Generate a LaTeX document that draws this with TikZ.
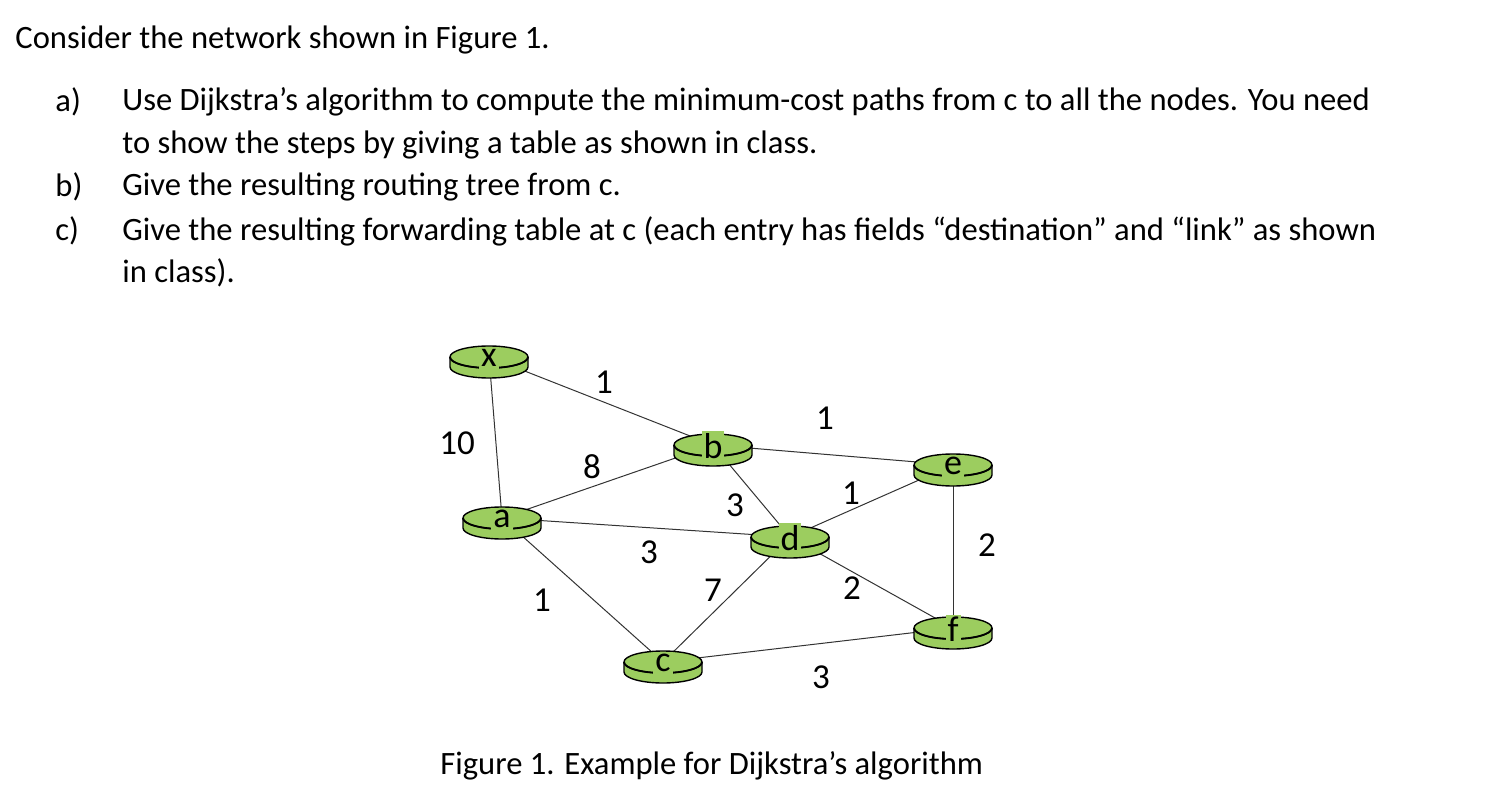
\documentclass[tikz,border=0pt]{standalone}
\usepackage{fontspec}
\setmainfont{Carlito}
\definecolor{rg}{RGB}{156,205,95}
\begin{document}
\begin{tikzpicture}[x=0.5pt,y=-0.5pt,
  txt/.style={anchor=west,inner sep=0pt,font=\fontsize{16.3}{19}\selectfont},
  lab/.style={inner sep=0pt,font=\fontsize{17.5}{19}\selectfont},
  edge/.style={draw=black!80,line width=0.5pt},
  router/.pic={
    \begin{scope}[y=0.5pt]
    \fill[rg] (-39,0) -- (-39,-10) arc[start angle=180,end angle=360,x radius=39,y radius=11] -- (39,0) -- cycle;
    \draw[line width=0.7pt] (-39,0) -- (-39,-10) arc[start angle=180,end angle=360,x radius=39,y radius=11] -- (39,0);
    \draw[fill=rg,line width=0.7pt] (0,0) ellipse[x radius=39,y radius=11];
    \draw[line width=0.9pt] (-39,0) arc[start angle=180,end angle=360,x radius=39,y radius=11];
    \node[fill=rg,inner sep=1pt,font=\fontsize{18}{19}\selectfont] at (0,-1) {#1};
    \end{scope}
  }]
\useasboundingbox (0,0) rectangle (1498,812);
\node[txt] at (15,40) {Consider the network shown in Figure 1.};
\node[txt] at (55,102) {a)};
\node[txt] at (122,102) {Use Dijkstra’s algorithm to compute the minimum-cost paths from c to all the nodes. You need};
\node[txt] at (122,145) {to show the steps by giving a table as shown in class.};
\node[txt] at (55,187) {b)};
\node[txt] at (122,187) {Give the resulting routing tree from c.};
\node[txt] at (55,231) {c)};
\node[txt] at (122,231) {Give the resulting forwarding table at c (each entry has fields “destination” and “link” as shown};
\node[txt] at (122,273) {in class).};
\node[txt] (cap) at (440,766) {Figure 1. Example for Dijkstra’s algorithm};
\coordinate (x) at (489,357);
\coordinate (b) at (713,445);
\coordinate (a) at (502,518);
\coordinate (d) at (790,537);
\coordinate (e) at (953,465);
\coordinate (f) at (953,628);
\coordinate (c) at (663,662);
\draw[edge] (x)--(b); \draw[edge] (x)--(a); \draw[edge] (a)--(b);
\draw[edge] (b)--(e); \draw[edge] (b)--(d); \draw[edge] (a)--(d);
\draw[edge] (a)--(c); \draw[edge] (d)--(e); \draw[edge] (d)--(f);
\draw[edge] (d)--(c); \draw[edge] (e)--(f); \draw[edge] (c)--(f);
\foreach \n in {x,b,a,d,e,f,c} {\pic at (\n) {router=\n};}
\node[lab] at (604,382) {1};
\node[lab] at (457,443) {10};
\node[lab] at (592,467) {8};
\node[lab] at (825,418) {1};
\node[lab] at (735,505) {3};
\node[lab] at (851,493) {1};
\node[lab] at (649,552) {3};
\node[lab] at (987,545) {2};
\node[lab] at (713,590) {7};
\node[lab] at (852,588) {2};
\node[lab] at (542,600) {1};
\node[lab] at (821,677) {3};
\end{tikzpicture}
\end{document}
